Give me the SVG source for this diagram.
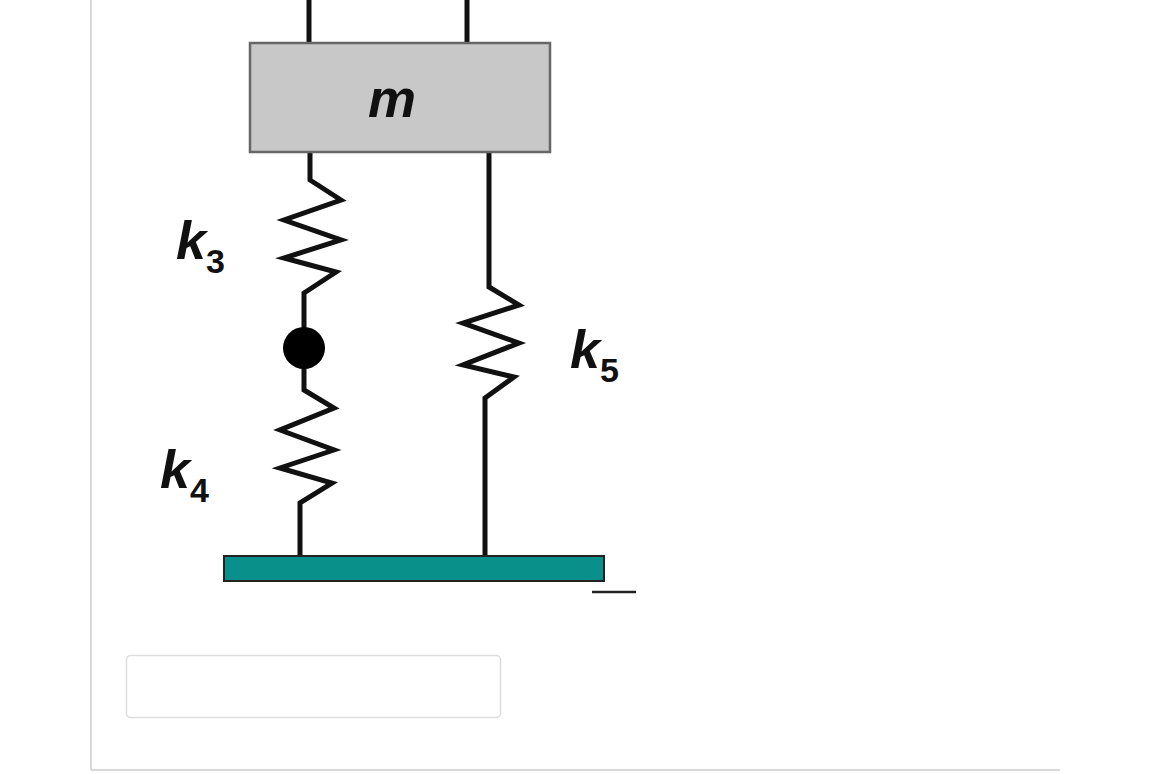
<svg xmlns="http://www.w3.org/2000/svg" width="1152" height="774" viewBox="0 0 1152 774">
<style>
.w{fill:none;stroke:#111;stroke-width:5;stroke-linejoin:miter}
.k{font-family:"Liberation Sans",Arial,sans-serif;font-weight:bold;font-style:italic;font-size:54px;fill:#111}
.s{font-size:34px;font-style:normal}
</style>
<rect width="1152" height="774" fill="#fff"/>
<line x1="91" y1="0" x2="91" y2="770" stroke="#ccc" stroke-width="1.5"/>
<line x1="91" y1="770" x2="1060" y2="770" stroke="#ccc" stroke-width="1.5"/>
<g id="connectors">
<line class="w" x1="309" y1="0" x2="309" y2="43"/>
<line class="w" x1="467" y1="0" x2="467" y2="43"/>
<polyline class="w" points="310,152 310,180 341,200 284,220 341,240 284,258 336,272 304,293 304,348"/>
<polyline class="w" points="304,348 304,390 334,408 280,430 334,450 280,468 332,483 300,503 300,556"/>
<polyline class="w" points="489,152 489,287 519,305 463,323 519,343 463,365 514,377 485,398 485,556"/>
</g>
<g id="mass">
<rect x="250" y="43" width="300" height="109" fill="#c8c8c8" stroke="#666" stroke-width="2.5"/>
<text x="392" y="117" text-anchor="middle" class="k" font-size="56">m</text>
</g>
<g id="node"><circle cx="304" cy="348" r="21" fill="#000"/></g>
<g id="ground">
<rect x="224" y="556" width="380" height="25" fill="#0a908b" stroke="#222" stroke-width="2"/>
<line x1="592" y1="592" x2="636" y2="592" stroke="#222" stroke-width="2.5"/>
</g>
<text class="k" x="176" y="259">k<tspan class="s" dy="14">3</tspan></text>
<text class="k" x="160" y="488">k<tspan class="s" dy="14">4</tspan></text>
<text class="k" x="570" y="368">k<tspan class="s" dy="14">5</tspan></text>
<rect x="126.5" y="655.5" width="374" height="62" rx="4" fill="#fff" stroke="#ddd" stroke-width="1.5"/>
</svg>
